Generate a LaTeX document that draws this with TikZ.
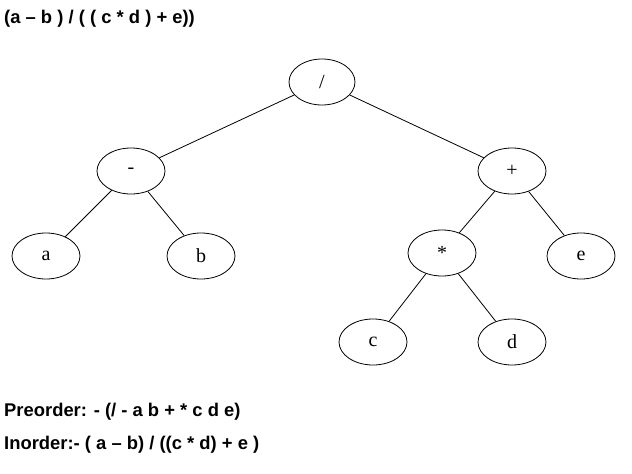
\documentclass[tikz,border=0pt]{standalone}
\usepackage{fontspec}
\setmainfont{Liberation Serif}
\newfontfamily\arialfont{Liberation Sans}
\usetikzlibrary{shapes.geometric}
\begin{document}
\begin{tikzpicture}[x=1pt,y=-1pt,
  tn/.style={ellipse,draw,line width=0.8pt,minimum width=68pt,minimum height=46pt,inner sep=0pt,font=\fontsize{20}{22}\selectfont},
  lbl/.style={anchor=west,font=\arialfont\bfseries\fontsize{18.4}{21}\selectfont,inner sep=0pt},
  ed/.style={line width=0.8pt}]
\useasboundingbox (0,0) rectangle (632,474);
\node[lbl] (t) at (4,19) {(a – b ) / ( ( c * d ) + e))};
\node[tn,minimum width=66pt] (div) at (322,82) {/};
\node[tn] (min) at (131,171) {-};
\node[tn] (plus) at (512,171) {+};
\node[tn] (a) at (46,256) {a};
\node[tn] (b) at (201,256) {b};
\node[tn] (mul) at (442,253) {*};
\node[tn] (e) at (581,256) {e};
\node[tn] (c) at (373,342) {c};
\node[tn] (d) at (512,342) {d};
\draw[ed] (div) -- (min);
\draw[ed] (div) -- (plus);
\draw[ed] (min) -- (a);
\draw[ed] (min) -- (b);
\draw[ed] (plus) -- (mul);
\draw[ed] (plus) -- (e);
\draw[ed] (mul) -- (c);
\draw[ed] (mul) -- (d);
\node[lbl] (pre) at (4,412) {Preorder: - (/ - a b + * c d e)};
\node[lbl] (in) at (4,445) {Inorder:- ( a – b) / ((c * d) + e )};
\end{tikzpicture}
\end{document}
